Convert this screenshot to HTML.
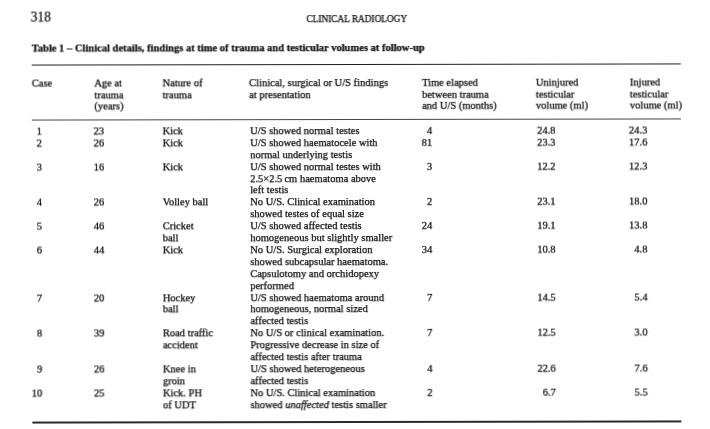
<!DOCTYPE html>
<html><head><meta charset="utf-8"><style>
html,body{margin:0;padding:0;background:#fff;}
body{width:710px;height:429px;position:relative;overflow:hidden;}
.t{position:absolute;font-family:"Liberation Serif",serif;color:#0a0a0a;white-space:nowrap;-webkit-text-stroke:0.25px #0a0a0a;}
.r{text-align:right;}
.ln{position:absolute;}
</style></head><body><div id="pg" style="position:absolute;left:0;top:0;width:710px;height:429px;transform:rotate(-0.1deg);transform-origin:355px 214px;filter:blur(0.3px);">
<div class="t" style="left:31.40px;top:9.11px;font-size:14.5px;line-height:15px;transform:scaleX(0.93);transform-origin:0 0;">318</div>
<div class="t" style="left:306.80px;top:13.66px;font-size:9.3px;line-height:10px;letter-spacing:0px;">CLINICAL RADIOLOGY</div>
<div class="t" style="left:32.00px;top:40.89px;font-size:11px;line-height:12px;font-weight:bold;transform:scaleX(0.956);transform-origin:0 0;">Table 1 – Clinical details, findings at time of trauma and testicular volumes at follow-up</div>
<div class="t" style="left:32.00px;top:77.26px;font-size:10.5px;line-height:11.6px;">Case</div>
<div class="t" style="left:94.50px;top:77.26px;font-size:10.5px;line-height:11.6px;">Age at<br>trauma<br>(years)</div>
<div class="t" style="left:162.70px;top:77.26px;font-size:10.5px;line-height:11.6px;">Nature of<br>trauma</div>
<div class="t" style="left:249.30px;top:77.26px;font-size:10.5px;line-height:11.6px;">Clinical, surgical or U/S findings<br>at presentation</div>
<div class="t" style="left:422.20px;top:77.26px;font-size:10.5px;line-height:11.6px;">Time elapsed<br>between trauma<br>and U/S (months)</div>
<div class="t" style="left:536.00px;top:77.26px;font-size:10.5px;line-height:11.6px;">Uninjured<br>testicular<br>volume (ml)</div>
<div class="t" style="left:630.00px;top:77.26px;font-size:10.5px;line-height:11.6px;">Injured<br>testicular<br>volume (ml)</div>
<div class="t r" style="right:668.00px;top:124.91px;font-size:10.5px;line-height:11.9px;">1</div>
<div class="t" style="left:93.80px;top:124.91px;font-size:10.5px;line-height:11.9px;">23</div>
<div class="t" style="left:162.70px;top:124.91px;font-size:10.5px;line-height:11.9px;">Kick</div>
<div class="t" style="left:250.20px;top:124.91px;font-size:10.5px;line-height:11.9px;">U/S showed normal testes</div>
<div class="t r" style="right:277.80px;top:124.91px;font-size:10.5px;line-height:11.9px;">4</div>
<div class="t r" style="right:154.40px;top:124.91px;font-size:10.5px;line-height:11.9px;">24.8</div>
<div class="t r" style="right:62.60px;top:124.91px;font-size:10.5px;line-height:11.9px;">24.3</div>
<div class="t r" style="right:668.00px;top:136.81px;font-size:10.5px;line-height:11.9px;">2</div>
<div class="t" style="left:93.80px;top:136.81px;font-size:10.5px;line-height:11.9px;">26</div>
<div class="t" style="left:162.70px;top:136.81px;font-size:10.5px;line-height:11.9px;">Kick</div>
<div class="t" style="left:250.20px;top:136.81px;font-size:10.5px;line-height:11.9px;">U/S showed haematocele with<br>normal underlying testis</div>
<div class="t r" style="right:277.80px;top:136.81px;font-size:10.5px;line-height:11.9px;">81</div>
<div class="t r" style="right:154.40px;top:136.81px;font-size:10.5px;line-height:11.9px;">23.3</div>
<div class="t r" style="right:62.60px;top:136.81px;font-size:10.5px;line-height:11.9px;">17.6</div>
<div class="t r" style="right:668.00px;top:160.61px;font-size:10.5px;line-height:11.9px;">3</div>
<div class="t" style="left:93.80px;top:160.61px;font-size:10.5px;line-height:11.9px;">16</div>
<div class="t" style="left:162.70px;top:160.61px;font-size:10.5px;line-height:11.9px;">Kick</div>
<div class="t" style="left:250.20px;top:160.61px;font-size:10.5px;line-height:11.9px;">U/S showed normal testes with<br>2.5×2.5&#8201;cm haematoma above<br>left testis</div>
<div class="t r" style="right:277.80px;top:160.61px;font-size:10.5px;line-height:11.9px;">3</div>
<div class="t r" style="right:154.40px;top:160.61px;font-size:10.5px;line-height:11.9px;">12.2</div>
<div class="t r" style="right:62.60px;top:160.61px;font-size:10.5px;line-height:11.9px;">12.3</div>
<div class="t r" style="right:668.00px;top:196.31px;font-size:10.5px;line-height:11.9px;">4</div>
<div class="t" style="left:93.80px;top:196.31px;font-size:10.5px;line-height:11.9px;">26</div>
<div class="t" style="left:162.70px;top:196.31px;font-size:10.5px;line-height:11.9px;">Volley ball</div>
<div class="t" style="left:250.20px;top:196.31px;font-size:10.5px;line-height:11.9px;">No U/S. Clinical examination<br>showed testes of equal size</div>
<div class="t r" style="right:277.80px;top:196.31px;font-size:10.5px;line-height:11.9px;">2</div>
<div class="t r" style="right:154.40px;top:196.31px;font-size:10.5px;line-height:11.9px;">23.1</div>
<div class="t r" style="right:62.60px;top:196.31px;font-size:10.5px;line-height:11.9px;">18.0</div>
<div class="t r" style="right:668.00px;top:220.11px;font-size:10.5px;line-height:11.9px;">5</div>
<div class="t" style="left:93.80px;top:220.11px;font-size:10.5px;line-height:11.9px;">46</div>
<div class="t" style="left:162.70px;top:220.11px;font-size:10.5px;line-height:11.9px;">Cricket<br>ball</div>
<div class="t" style="left:250.20px;top:220.11px;font-size:10.5px;line-height:11.9px;">U/S showed affected testis<br>homogeneous but slightly smaller</div>
<div class="t r" style="right:277.80px;top:220.11px;font-size:10.5px;line-height:11.9px;">24</div>
<div class="t r" style="right:154.40px;top:220.11px;font-size:10.5px;line-height:11.9px;">19.1</div>
<div class="t r" style="right:62.60px;top:220.11px;font-size:10.5px;line-height:11.9px;">13.8</div>
<div class="t r" style="right:668.00px;top:243.91px;font-size:10.5px;line-height:11.9px;">6</div>
<div class="t" style="left:93.80px;top:243.91px;font-size:10.5px;line-height:11.9px;">44</div>
<div class="t" style="left:162.70px;top:243.91px;font-size:10.5px;line-height:11.9px;">Kick</div>
<div class="t" style="left:250.20px;top:243.91px;font-size:10.5px;line-height:11.9px;">No U/S. Surgical exploration<br>showed subcapsular haematoma.<br>Capsulotomy and orchidopexy<br>performed</div>
<div class="t r" style="right:277.80px;top:243.91px;font-size:10.5px;line-height:11.9px;">34</div>
<div class="t r" style="right:154.40px;top:243.91px;font-size:10.5px;line-height:11.9px;">10.8</div>
<div class="t r" style="right:62.60px;top:243.91px;font-size:10.5px;line-height:11.9px;">4.8</div>
<div class="t r" style="right:668.00px;top:291.51px;font-size:10.5px;line-height:11.9px;">7</div>
<div class="t" style="left:93.80px;top:291.51px;font-size:10.5px;line-height:11.9px;">20</div>
<div class="t" style="left:162.70px;top:291.51px;font-size:10.5px;line-height:11.9px;">Hockey<br>ball</div>
<div class="t" style="left:250.20px;top:291.51px;font-size:10.5px;line-height:11.9px;">U/S showed haematoma around<br>homogeneous, normal sized<br>affected testis</div>
<div class="t r" style="right:277.80px;top:291.51px;font-size:10.5px;line-height:11.9px;">7</div>
<div class="t r" style="right:154.40px;top:291.51px;font-size:10.5px;line-height:11.9px;">14.5</div>
<div class="t r" style="right:62.60px;top:291.51px;font-size:10.5px;line-height:11.9px;">5.4</div>
<div class="t r" style="right:668.00px;top:327.21px;font-size:10.5px;line-height:11.9px;">8</div>
<div class="t" style="left:93.80px;top:327.21px;font-size:10.5px;line-height:11.9px;">39</div>
<div class="t" style="left:162.70px;top:327.21px;font-size:10.5px;line-height:11.9px;">Road traffic<br>accident</div>
<div class="t" style="left:250.20px;top:327.21px;font-size:10.5px;line-height:11.9px;">No U/S or clinical examination.<br>Progressive decrease in size of<br>affected testis after trauma</div>
<div class="t r" style="right:277.80px;top:327.21px;font-size:10.5px;line-height:11.9px;">7</div>
<div class="t r" style="right:154.40px;top:327.21px;font-size:10.5px;line-height:11.9px;">12.5</div>
<div class="t r" style="right:62.60px;top:327.21px;font-size:10.5px;line-height:11.9px;">3.0</div>
<div class="t r" style="right:668.00px;top:362.91px;font-size:10.5px;line-height:11.9px;">9</div>
<div class="t" style="left:93.80px;top:362.91px;font-size:10.5px;line-height:11.9px;">26</div>
<div class="t" style="left:162.70px;top:362.91px;font-size:10.5px;line-height:11.9px;">Knee in<br>groin</div>
<div class="t" style="left:250.20px;top:362.91px;font-size:10.5px;line-height:11.9px;">U/S showed heterogeneous<br>affected testis</div>
<div class="t r" style="right:277.80px;top:362.91px;font-size:10.5px;line-height:11.9px;">4</div>
<div class="t r" style="right:154.40px;top:362.91px;font-size:10.5px;line-height:11.9px;">22.6</div>
<div class="t r" style="right:62.60px;top:362.91px;font-size:10.5px;line-height:11.9px;">7.6</div>
<div class="t r" style="right:668.00px;top:386.71px;font-size:10.5px;line-height:11.9px;">10</div>
<div class="t" style="left:93.80px;top:386.71px;font-size:10.5px;line-height:11.9px;">25</div>
<div class="t" style="left:162.70px;top:386.71px;font-size:10.5px;line-height:11.9px;">Kick. PH<br>of UDT</div>
<div class="t" style="left:250.20px;top:386.71px;font-size:10.5px;line-height:11.9px;">No U/S. Clinical examination<br>showed <i>unaffected</i> testis smaller</div>
<div class="t r" style="right:277.80px;top:386.71px;font-size:10.5px;line-height:11.9px;">2</div>
<div class="t r" style="right:154.40px;top:386.71px;font-size:10.5px;line-height:11.9px;">6.7</div>
<div class="t r" style="right:62.60px;top:386.71px;font-size:10.5px;line-height:11.9px;">5.5</div>
<div class="ln" style="left:31.8px;top:63.7px;width:649.5px;height:1.6px;background:#1e1e1e"></div>
<div class="ln" style="left:31.8px;top:118.6px;width:649.5px;height:1.1px;background:#444"></div>
<div class="ln" style="left:31.5px;top:421.4px;width:649.8px;height:1.7px;background:#2a2a2a"></div>
</div></body></html>
